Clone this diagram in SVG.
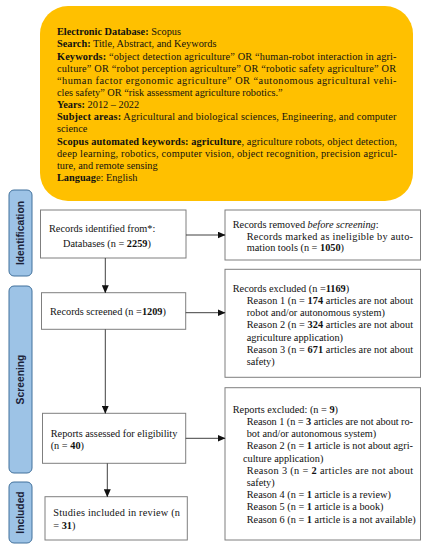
<svg xmlns="http://www.w3.org/2000/svg" width="427" height="550" viewBox="0 0 427 550">
<style>
.t{font-family:"Liberation Serif","Times New Roman",serif;font-size:10.3px;fill:#111;}
.b{font-weight:bold;}
.i{font-style:italic;}
.box{fill:#fff;stroke:#7f7f7f;stroke-width:1;}
.side{fill:#9dc3e6;stroke:#41719c;stroke-width:1;}
.sl{font-family:"Liberation Sans",Arial,sans-serif;font-size:10.3px;font-weight:bold;fill:#1b2238;text-anchor:middle;}
.c{stroke:#404040;stroke-width:1;fill:none;marker-end:url(#ah);}
</style>
<defs>
<marker id="ah" markerWidth="8" markerHeight="7" refX="7.5" refY="3.5" orient="auto" markerUnits="userSpaceOnUse">
<path d="M0,0 L8,3.5 L0,7 Z" fill="#111"/>
</marker>
</defs>
<rect width="427" height="550" fill="#fff"/>

<g id="search">
<rect x="40" y="6" width="373" height="195" rx="28" ry="28" fill="#ffc000"/>
<text class="t" x="57" y="35.2"><tspan class="b">Electronic Database:</tspan> Scopus</text>
<text class="t" x="57" y="47.35"><tspan class="b">Search:</tspan> Title, Abstract, and Keywords</text>
<text class="t" x="57" y="59.5" textLength="339.5" lengthAdjust="spacing"><tspan class="b">Keywords:</tspan> “object detection agriculture” OR “human-robot interaction in agri-</text>
<text class="t" x="57" y="71.65" textLength="339" lengthAdjust="spacing">culture” OR “robot perception agriculture” OR “robotic safety agriculture” OR</text>
<text class="t" x="57" y="83.8" textLength="339.5" lengthAdjust="spacing">“human factor ergonomic agriculture” OR “autonomous agricultural vehi-</text>
<text class="t" x="57" y="95.95">cles safety” OR “risk assessment agriculture robotics.”</text>
<text class="t" x="57" y="108.1"><tspan class="b">Years:</tspan> 2012 – 2022</text>
<text class="t" x="57" y="120.25" textLength="339.5" lengthAdjust="spacing"><tspan class="b">Subject areas:</tspan> Agricultural and biological sciences, Engineering, and computer</text>
<text class="t" x="57" y="132.4">science</text>
<text class="t" x="57" y="144.55" textLength="340" lengthAdjust="spacing"><tspan class="b">Scopus automated keywords: agriculture</tspan>, agriculture robots, object detection,</text>
<text class="t" x="57" y="156.7" textLength="340" lengthAdjust="spacing">deep learning, robotics, computer vision, object recognition, precision agricul-</text>
<text class="t" x="57" y="168.85">ture, and remote sensing</text>
<text class="t" x="57" y="181"><tspan class="b">Languag</tspan>e: English</text>
</g>

<g id="label-identification">
<rect class="side" x="9" y="190" width="23" height="86" rx="5"/>
<text class="sl" transform="translate(24.2,233) rotate(-90)">Identification</text>
</g>
<g id="label-screening">
<rect class="side" x="9" y="286" width="23" height="187" rx="5"/>
<text class="sl" transform="translate(24.2,379.5) rotate(-90)">Screening</text>
</g>
<g id="label-included">
<rect class="side" x="9" y="482" width="23" height="61" rx="5"/>
<text class="sl" transform="translate(24.2,512.5) rotate(-90)">Included</text>
</g>

<g id="identified">
<rect class="box" x="40.5" y="210" width="145.5" height="48"/>
<text class="t" x="49" y="231.8">Records identified from*:</text>
<text class="t" x="63" y="246.5">Databases (n = <tspan class="b">2259</tspan>)</text>
</g>

<g id="removed">
<rect class="box" x="225" y="210" width="195.5" height="50"/>
<text class="t" x="232.7" y="227.5">Records removed <tspan class="i">before screening</tspan>:</text>
<text class="t" x="246.7" y="239.5" textLength="166.3" lengthAdjust="spacing">Records marked as ineligible by auto-</text>
<text class="t" x="246.7" y="251.2">mation tools (n = <tspan class="b">1050</tspan>)</text>
</g>

<g id="screened">
<rect class="box" x="41.5" y="292.7" width="144.2" height="36.6"/>
<text class="t" x="50" y="314.5">Records screened (n =<tspan class="b">1209</tspan>)</text>
</g>

<g id="excluded">
<rect class="box" x="225" y="269.3" width="195.5" height="108"/>
<text class="t" x="232.7" y="291.8">Records excluded (n =<tspan class="b">1169</tspan>)</text>
<text class="t" x="246.7" y="304" textLength="166.3" lengthAdjust="spacing">Reason 1 (n = <tspan class="b">174</tspan> articles are not about</text>
<text class="t" x="246.7" y="316.2">robot and/or autonomous system)</text>
<text class="t" x="246.7" y="328.4" textLength="166.3" lengthAdjust="spacing">Reason 2 (n = <tspan class="b">324</tspan> articles are not about</text>
<text class="t" x="246.7" y="340.6">agriculture application)</text>
<text class="t" x="246.7" y="352.8" textLength="166.3" lengthAdjust="spacing">Reason 3 (n = <tspan class="b">671</tspan> articles are not about</text>
<text class="t" x="246.7" y="365">safety)</text>
</g>

<g id="assessed">
<rect class="box" x="42.5" y="413.3" width="143.2" height="50"/>
<text class="t" x="50.7" y="436.8">Reports assessed for eligibility</text>
<text class="t" x="50.7" y="449.3">(n = <tspan class="b">40</tspan>)</text>
</g>

<g id="reports-excluded">
<rect class="box" x="225" y="387.7" width="195.5" height="152.3"/>
<text class="t" x="232.7" y="412.8">Reports excluded: (n = <tspan class="b">9</tspan>)</text>
<text class="t" x="246.7" y="425" textLength="166.3" lengthAdjust="spacing">Reason 1 (n = <tspan class="b">3</tspan> articles are not about ro-</text>
<text class="t" x="246.7" y="437.2">bot and/or autonomous system)</text>
<text class="t" x="246.7" y="449.4" textLength="166.3" lengthAdjust="spacing">Reason 2 (n = <tspan class="b">1</tspan> article is not about agri-</text>
<text class="t" x="243" y="461.6">culture application)</text>
<text class="t" x="246.7" y="473.8" textLength="166.3" lengthAdjust="spacing">Reason 3 (n = <tspan class="b">2</tspan> articles are not about</text>
<text class="t" x="246.7" y="486">safety)</text>
<text class="t" x="246.7" y="498.2">Reason 4 (n = <tspan class="b">1</tspan> article is a review)</text>
<text class="t" x="246.7" y="510.4">Reason 5 (n = <tspan class="b">1</tspan> article is a book)</text>
<text class="t" x="246.7" y="522.6">Reason 6 (n = <tspan class="b">1</tspan> article is a not available)</text>
</g>

<g id="included">
<rect class="box" x="45" y="496.7" width="142.3" height="43.3"/>
<text class="t" x="53.3" y="516.2" textLength="126.7" lengthAdjust="spacing">Studies included in review (n</text>
<text class="t" x="53.3" y="528.5">= <tspan class="b">31</tspan>)</text>
</g>

<g id="connectors">
<line class="c" x1="186" y1="235" x2="225" y2="235"/>
<line class="c" x1="185.7" y1="312.7" x2="225" y2="312.7"/>
<line class="c" x1="185.7" y1="438.3" x2="225" y2="438.3"/>
<line class="c" x1="105.3" y1="258" x2="105.3" y2="292.7"/>
<line class="c" x1="105.3" y1="329.3" x2="105.3" y2="413.3"/>
<line class="c" x1="107.3" y1="463.3" x2="107.3" y2="496.7"/>
</g>
</svg>
